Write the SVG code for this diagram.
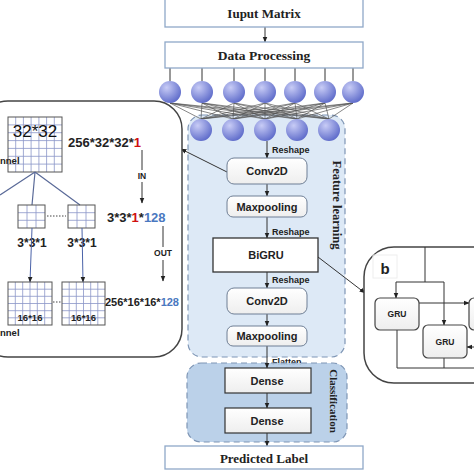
<svg xmlns="http://www.w3.org/2000/svg" width="474" height="474" viewBox="0 0 474 474">
<style>
.top{fill:#fff;stroke:#8fa8c8;stroke-width:1.3}
.serif{font-family:"Liberation Serif",serif;font-weight:bold;fill:#222}
.sans{font-family:"Liberation Sans",Arial,sans-serif;font-weight:bold;fill:#222}
.rbox{fill:url(#wg);stroke:#6f7f95;stroke-width:1}
.sbox{fill:url(#wg);stroke:#333;stroke-width:1.2}
.ln{stroke:#333;stroke-width:1;fill:none}
.mesh{stroke:#555;stroke-width:0.7;fill:none}
.grid{stroke:#8a96c8;stroke-width:0.8;fill:none}
.gout{fill:none;stroke:#555;stroke-width:1}
.blue{fill:#4a78c0}
.red{fill:#d01010}
.lab{font-size:11px;text-anchor:middle}
</style>
<defs>
<radialGradient id="cg" cx="0.35" cy="0.3" r="0.8">
<stop offset="0" stop-color="#c8ccf6"/>
<stop offset="1" stop-color="#5563c6"/>
</radialGradient>
<linearGradient id="wg" x1="0" y1="0" x2="0" y2="1">
<stop offset="0" stop-color="#ffffff"/>
<stop offset="1" stop-color="#eeeeee"/>
</linearGradient>
<marker id="ah" viewBox="0 0 10 10" refX="9" refY="5" markerWidth="6" markerHeight="6" orient="auto">
<path d="M0,1 L10,5 L0,9 z" fill="#222"/>
</marker>
</defs>
<rect width="474" height="474" fill="#fff"/>

<!-- regions -->
<g id="feature-learning">
<rect x="188" y="115" width="157" height="242" rx="14" fill="#dde9f6" stroke="#7f96b5" stroke-width="1.2" stroke-dasharray="6,4"/>
<text class="serif" font-size="12.5" transform="translate(336,205) rotate(90)" text-anchor="middle" dominant-baseline="middle">Feature learning</text>
</g>
<g id="flatten-label"><text class="sans" x="272" y="365" font-size="9">Flatten</text></g>
<g id="classification">
<rect x="187" y="363" width="160" height="79" rx="14" fill="#b5cde7" fill-opacity="0.92" stroke="#7f96b5" stroke-width="1.2" stroke-dasharray="6,4"/>
<text class="serif" font-size="11" transform="translate(333,401) rotate(90)" text-anchor="middle" dominant-baseline="middle">Classification</text>
</g>

<g id="connectors">
<line class="ln" x1="265" y1="27" x2="265" y2="42" marker-end="url(#ah)"/>
<g class="ln">
<line x1="170" y1="68" x2="170" y2="81"/><line x1="202" y1="68" x2="202" y2="81"/><line x1="234" y1="68" x2="234" y2="81"/><line x1="265" y1="68" x2="265" y2="81"/><line x1="295" y1="68" x2="295" y2="81"/><line x1="325" y1="68" x2="325" y2="81"/><line x1="353" y1="68" x2="353" y2="81"/>
</g>
<g class="mesh">
<path d="M170,103L201,119M170,103L233,119M170,103L265,119M170,103L297,119M170,103L329,119
M202,103L201,119M202,103L233,119M202,103L265,119M202,103L297,119M202,103L329,119
M234,103L201,119M234,103L233,119M234,103L265,119M234,103L297,119M234,103L329,119
M265,103L201,119M265,103L233,119M265,103L265,119M265,103L297,119M265,103L329,119
M295,103L201,119M295,103L233,119M295,103L265,119M295,103L297,119M295,103L329,119
M325,103L201,119M325,103L233,119M325,103L265,119M325,103L297,119M325,103L329,119
M353,103L201,119M353,103L233,119M353,103L265,119M353,103L297,119M353,103L329,119"/>
</g>
<line class="ln" x1="267" y1="141" x2="267" y2="158" marker-end="url(#ah)"/>
<line class="ln" x1="267" y1="184" x2="267" y2="196" marker-end="url(#ah)"/>
<line class="ln" x1="267" y1="217" x2="267" y2="238" marker-end="url(#ah)"/>
<line class="ln" x1="267" y1="272" x2="267" y2="288" marker-end="url(#ah)"/>
<line class="ln" x1="267" y1="314" x2="267" y2="326" marker-end="url(#ah)"/>
<line class="ln" x1="267" y1="346" x2="267" y2="368" marker-end="url(#ah)"/>
<line class="ln" x1="267" y1="393" x2="267" y2="408" marker-end="url(#ah)"/>
<line class="ln" x1="267" y1="433" x2="267" y2="446" marker-end="url(#ah)"/>
<line class="ln" x1="227" y1="172" x2="181" y2="149" stroke-width="1.3" marker-end="url(#ah)"/>
<line class="ln" x1="318" y1="257" x2="365" y2="293" stroke-width="1.3" marker-end="url(#ah)"/>
<text class="sans" x="272" y="153" font-size="9">Reshape</text>
<text class="sans" x="272" y="235" font-size="9">Reshape</text>
<text class="sans" x="272" y="283" font-size="9">Reshape</text>
</g>

<!-- top boxes -->
<g id="input-matrix">
<rect class="top" x="165" y="-2" width="198" height="29"/>
<text class="serif" x="264" y="18" font-size="13" text-anchor="middle">Iuput Matrix</text>
</g>
<g id="data-processing">
<rect class="top" x="165" y="42" width="198" height="26"/>
<text class="serif" x="264" y="60" font-size="13.5" text-anchor="middle">Data Processing</text>
</g>
<g id="neurons">
<g fill="url(#cg)">
<circle cx="170" cy="92" r="11"/><circle cx="202" cy="92" r="11"/><circle cx="234" cy="92" r="11"/><circle cx="265" cy="92" r="11"/><circle cx="295" cy="92" r="11"/><circle cx="325" cy="92" r="11"/><circle cx="353" cy="92" r="11"/>
<circle cx="201" cy="130" r="11"/><circle cx="233" cy="130" r="11"/><circle cx="265" cy="130" r="11"/><circle cx="297" cy="130" r="11"/><circle cx="329" cy="130" r="11"/>
</g>
</g>

<g id="conv2d-1"><rect class="rbox" x="227" y="158" width="80" height="26" rx="7"/><text class="sans lab" x="267" y="175">Conv2D</text></g>
<g id="maxpool-1"><rect class="rbox" x="227" y="196" width="80" height="21" rx="6"/><text class="sans lab" x="267" y="210.5">Maxpooling</text></g>
<g id="bigru"><rect fill="#fff" stroke="#333" stroke-width="1.3" x="213" y="238" width="105" height="34"/><text class="sans lab" x="266" y="259">BiGRU</text></g>
<g id="conv2d-2"><rect class="rbox" x="227" y="288" width="80" height="26" rx="7"/><text class="sans lab" x="267" y="305">Conv2D</text></g>
<g id="maxpool-2"><rect class="rbox" x="227" y="326" width="80" height="20" rx="6"/><text class="sans lab" x="267" y="340">Maxpooling</text></g>
<g id="dense-1"><rect class="sbox" x="225" y="368" width="86" height="25"/><text class="sans lab" x="267" y="385">Dense</text></g>
<g id="dense-2"><rect class="sbox" x="225" y="408" width="86" height="25"/><text class="sans lab" x="267" y="425">Dense</text></g>
<g id="predicted-label">
<rect class="top" x="165" y="446" width="198" height="23"/>
<text class="serif" x="264" y="463" font-size="13" text-anchor="middle">Predicted Label</text>
</g>

<!-- left panel -->
<g id="panel-a">
<rect x="-20" y="101" width="202" height="256" rx="28" fill="#fff" stroke="#444" stroke-width="1.5"/>
<rect x="8" y="117" width="54" height="55" fill="#fff"/>
<path class="grid" d="M15.7,117V172M23.4,117V172M31.1,117V172M38.9,117V172M46.6,117V172M54.3,117V172M8,124.9H62M8,132.7H62M8,140.6H62M8,148.4H62M8,156.3H62M8,164.1H62"/>
<rect class="gout" x="8" y="117" width="54" height="55"/>
<text x="35" y="137" font-family="Liberation Sans,Arial,sans-serif" font-size="17" text-anchor="middle" fill="#111">32*32</text>
<text class="sans" x="0" y="164" font-size="9.5">nnel</text>
<path d="M35,172L0,195M35,172L32,205M35,172L80,205" stroke="#5a6a98" stroke-width="1.2" fill="none"/>
<path class="grid" d="M27,205V228M36,205V228M18,212.7H45M18,220.3H45M77,205V228M86,205V228M68,212.7H95M68,220.3H95"/>
<rect class="gout" x="18" y="205" width="27" height="23"/>
<rect class="gout" x="68" y="205" width="27" height="23"/>
<line x1="47" y1="216" x2="66" y2="216" stroke="#444" stroke-width="1" stroke-dasharray="1.5,1.5"/>
<text class="sans" x="32" y="247" font-size="12" text-anchor="middle">3*3*1</text>
<text class="sans" x="82" y="247" font-size="12" text-anchor="middle">3*3*1</text>
<line x1="32" y1="228" x2="30" y2="282" stroke="#4a62a8" stroke-width="1" marker-end="url(#ah)"/>
<line x1="82" y1="228" x2="83" y2="282" stroke="#4a62a8" stroke-width="1" marker-end="url(#ah)"/>
<path class="grid" d="M15.3,282V325M22.7,282V325M30,282V325M37.3,282V325M44.7,282V325M8,289.2H52M8,296.3H52M8,303.5H52M8,310.7H52M8,317.8H52
M69.2,282V325M76.3,282V325M83.5,282V325M90.7,282V325M97.8,282V325M62,289.2H105M62,296.3H105M62,303.5H105M62,310.7H105M62,317.8H105"/>
<rect class="gout" x="8" y="282" width="44" height="43"/>
<rect class="gout" x="62" y="282" width="43" height="43"/>
<line x1="53" y1="302" x2="61" y2="302" stroke="#444" stroke-width="1" stroke-dasharray="1.5,1.5"/>
<text class="sans" x="30" y="321" font-size="9.5" text-anchor="middle">16*16</text>
<text class="sans" x="83.5" y="321" font-size="9.5" text-anchor="middle">16*16</text>
<text class="sans" x="0" y="336" font-size="9.5">nnel</text>
<text class="sans" x="68" y="147" font-size="13">256*32*32*<tspan class="red">1</tspan></text>
<line class="ln" x1="142" y1="150" x2="142" y2="170"/>
<text class="sans" x="142" y="179" font-size="8.5" text-anchor="middle">IN</text>
<line class="ln" x1="142" y1="182" x2="142" y2="203" marker-end="url(#ah)"/>
<text class="sans" x="107" y="222" font-size="13">3*3*<tspan class="red">1</tspan>*<tspan class="blue">128</tspan></text>
<line class="ln" x1="163" y1="226" x2="163" y2="247"/>
<text class="sans" x="163" y="256" font-size="8.5" text-anchor="middle">OUT</text>
<line class="ln" x1="163" y1="260" x2="163" y2="281" marker-end="url(#ah)"/>
<text class="sans" x="105" y="306" font-size="11" textLength="74" lengthAdjust="spacingAndGlyphs">256*16*16*<tspan class="blue">128</tspan></text>
</g>

<!-- right panel -->
<g id="panel-b">
<rect x="364" y="247" width="140" height="136" rx="30" fill="#fff" stroke="#444" stroke-width="1.5"/>
<rect x="373" y="255" width="24" height="23" fill="none" stroke="#eee" stroke-width="1"/>
<text class="sans" x="385" y="274" font-size="15" text-anchor="middle">b</text>
<path class="ln" d="M425,247V282M396,282H444M397,330V368M444,358V368M397,368H474"/>
<line class="ln" x1="396" y1="282" x2="396" y2="298" marker-end="url(#ah)"/>
<line class="ln" x1="444" y1="282" x2="444" y2="325" marker-end="url(#ah)"/>
<line class="ln" x1="419" y1="303" x2="469" y2="303" marker-end="url(#ah)"/>
<line class="ln" x1="476" y1="347" x2="467" y2="347" marker-end="url(#ah)"/>
<rect x="375" y="298" width="44" height="32" rx="5" fill="url(#wg)" stroke="#444" stroke-width="1.2"/>
<text class="sans" x="397" y="317" font-size="8.5" text-anchor="middle">GRU</text>
<rect x="423" y="325" width="44" height="33" rx="5" fill="url(#wg)" stroke="#444" stroke-width="1.2"/>
<text class="sans" x="445" y="345" font-size="8.5" text-anchor="middle">GRU</text>
<rect x="469" y="298" width="30" height="32" rx="5" fill="url(#wg)" stroke="#444" stroke-width="1.2"/>
</g>
</svg>
